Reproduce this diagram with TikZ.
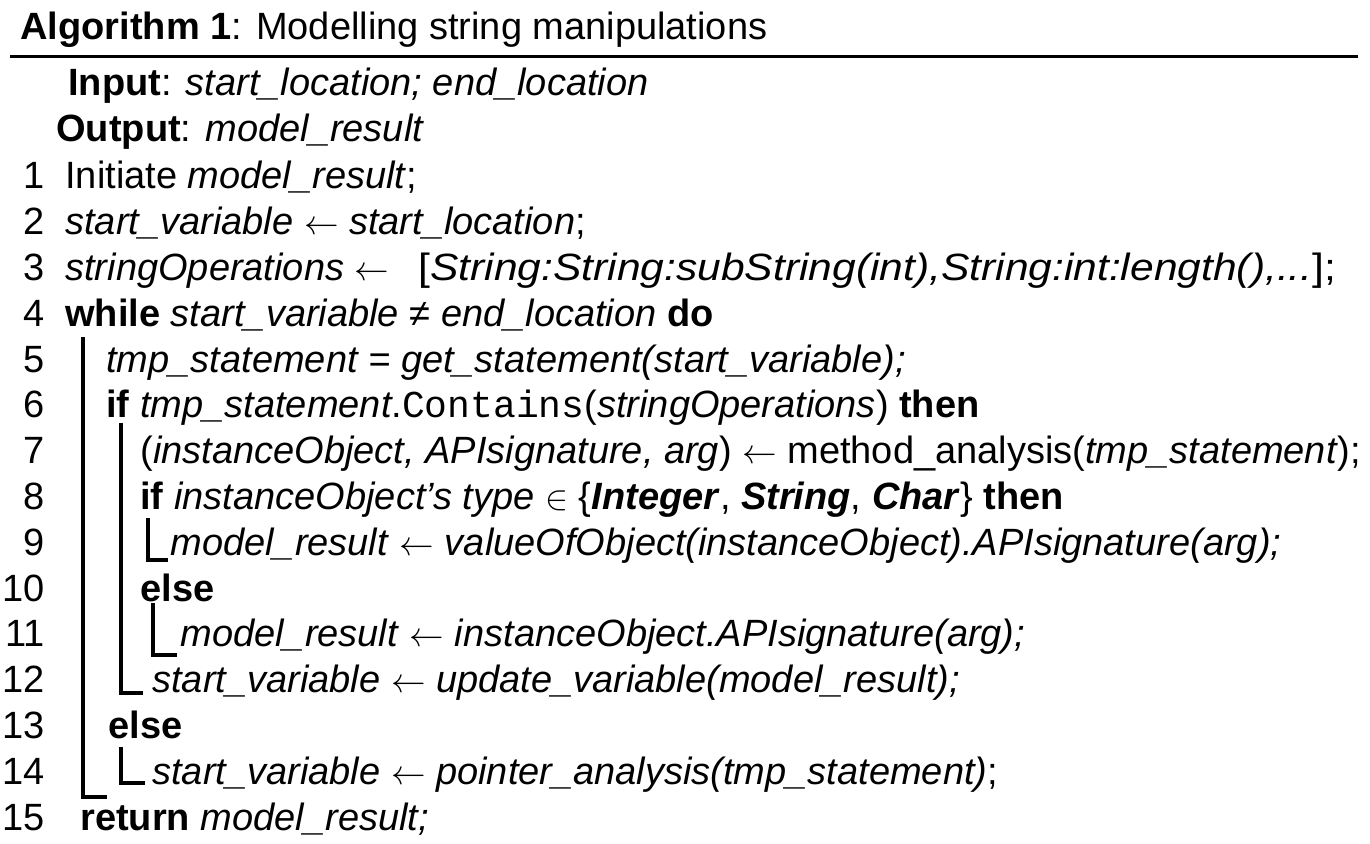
\documentclass[tikz,border=0pt]{standalone}
\usepackage{fontspec}
\setmainfont{Liberation Sans}
\setmonofont{Liberation Mono}
\begin{document}
\begin{tikzpicture}[x=0.5pt,y=-0.5pt,
  t/.style={anchor=base west,inner sep=0pt,font=\fontsize{19}{22}\selectfont},
  n/.style={anchor=base east,inner sep=0pt,font=\fontsize{19}{22}\selectfont},
  bar/.style={line width=1.6pt}]
\useasboundingbox (0,0) rectangle (1370,844);
\node[t] (title) at (20,40) {\textbf{Algorithm 1}: Modelling string manipulations};
\draw[line width=1.5pt] (10,57) -- (1358,57);
\node[t] (in) at (68,96) {\textbf{Input}: \textit{start\_location; end\_location}};
\node[t] (out) at (56,142) {\textbf{Output}: \textit{model\_result}};
\foreach \i/\y in {1/189,2/235,3/281,4/327,5/373,6/417,7/463,8/509,9/555,10/601,11/646,12/692,13/738,14/784,15/830}
  \node[n] (n\i) at (45,\y) {\i};
\node[t] (l1) at (65,189) {Initiate \textit{model\_result};};
\node[t] (l2) at (65,235) {\textit{start\_variable} $\leftarrow$ \textit{start\_location};};
\node[t] (l3) at (65,281) {\textit{stringOperations} $\leftarrow$};
\node[t,xscale=1.12] (l3b) at (418,281) {[\textit{String:String:subString(int),String:int:length(),...}];};
\node[t] (l4) at (65,327) {\textbf{while} \textit{start\_variable} ≠ \textit{end\_location} \textbf{do}};
\node[t] (l5) at (106,373) {\textit{tmp\_statement = get\_statement(start\_variable);}};
\node[t] (l6) at (106,417) {\textbf{if} \textit{tmp\_statement}.\texttt{Contains}(\textit{stringOperations}) \textbf{then}};
\node[t] (l7) at (140,463) {(\textit{instanceObject, APIsignature, arg}) $\leftarrow$ method\_analysis(\textit{tmp\_statement});};
\node[t] (l8) at (140,509) {\textbf{if} \textit{instanceObject's type} $\in$ \{\textbf{\textit{Integer}}, \textbf{\textit{String}}, \textbf{\textit{Char}}\} \textbf{then}};
\node[t] (l9) at (170,555) {\textit{model\_result} $\leftarrow$ \textit{valueOfObject(instanceObject).APIsignature(arg);}};
\node[t] (l10) at (140,601) {\textbf{else}};
\node[t] (l11) at (180,646) {\textit{model\_result} $\leftarrow$ \textit{instanceObject.APIsignature(arg);}};
\node[t] (l12) at (152,692) {\textit{start\_variable} $\leftarrow$ \textit{update\_variable(model\_result);}};
\node[t] (l13) at (108,738) {\textbf{else}};
\node[t] (l14) at (152,784) {\textit{start\_variable} $\leftarrow$ \textit{pointer\_analysis(tmp\_statement)};};
\node[t] (l15) at (80,830) {\textbf{return} \textit{model\_result;}};
\draw[bar] (83,337) -- (83,797) -- (107,797);
\draw[bar] (121,423) -- (121,693) -- (143,693);
\draw[bar] (148,518) -- (148,560) -- (168,560);
\draw[bar] (153,603) -- (153,655) -- (177,655);
\draw[bar] (121,747) -- (121,783) -- (145,783);
\end{tikzpicture}
\end{document}
